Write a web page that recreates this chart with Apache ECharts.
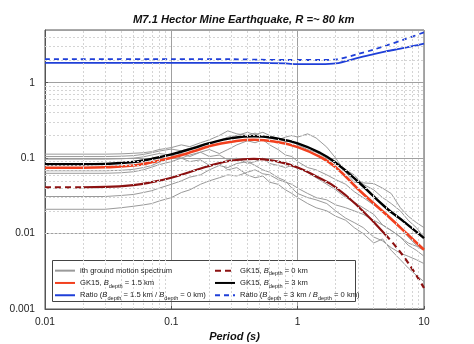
<!DOCTYPE html>
<html>
<head>
<meta charset="utf-8">
<script src="https://cdn.jsdelivr.net/npm/echarts@6/dist/echarts.min.js"></script>
<style>
  html, body { margin: 0; padding: 0; background: #fff; }
  #chart { width: 474px; height: 344px; }
</style>
</head>
<body>
<div id="chart"></div>
<script>
// Periods (s) at which the GK15 model curves are tabulated
const periods = [0.01, 0.02, 0.03, 0.05, 0.07, 0.1, 0.15, 0.2, 0.3, 0.45, 0.7, 1, 1.5, 2, 3, 5, 7, 10];
// GK15 spectral acceleration (g) for three basin depths
const gk15Depth0 = [0.041, 0.041, 0.0415, 0.044, 0.048, 0.055, 0.068, 0.079, 0.093, 0.098, 0.09, 0.075, 0.054, 0.041, 0.023, 0.0095, 0.0048, 0.0019];
const gk15Depth15 = [0.0747, 0.0747, 0.0756, 0.080, 0.088, 0.101, 0.123, 0.144, 0.165, 0.175, 0.163, 0.14, 0.104, 0.076, 0.039, 0.018, 0.0107, 0.0061];
const gk15Depth3 = [0.083, 0.083, 0.084, 0.089, 0.098, 0.112, 0.136, 0.158, 0.184, 0.195, 0.181, 0.157, 0.118, 0.087, 0.049, 0.022, 0.0142, 0.0087];

// Basin amplification ratios
const ratioPeriods = [0.01, 0.1, 0.3, 0.5, 0.8, 1, 1.5, 2, 3, 4, 5, 7, 10];
const ratio15 = [1.83, 1.83, 1.83, 1.83, 1.8, 1.76, 1.76, 1.8, 2.13, 2.4, 2.6, 2.9, 3.3];
const ratio3 = [2.06, 2.06, 2.05, 2.02, 2.0, 2.0, 2.0, 2.03, 2.4, 2.75, 3.1, 3.75, 4.66];

// Recorded ground motion spectra (g)
const gmPeriods = [0.01, 0.02, 0.03, 0.04, 0.05, 0.06, 0.07, 0.08, 0.1, 0.12, 0.14, 0.17, 0.2, 0.24, 0.28, 0.33, 0.4, 0.46, 0.53, 0.6, 0.7, 0.8, 0.9, 1, 1.2, 1.4, 1.7, 2, 2.4, 2.8, 3.3, 4, 4.7, 5.5, 6.5, 7.5, 8.7, 10];
const gm1 = [0.113,0.113,0.113,0.114,0.116,0.118,0.122,0.13,0.138,0.15,0.142,0.16,0.175,0.2,0.23,0.21,0.2,0.215,0.19,0.185,0.175,0.19,0.2,0.19,0.21,0.185,0.14,0.1,0.065,0.048,0.047,0.046,0.04,0.034,0.022,0.017,0.014,0.012];
const gm2 = [0.105,0.105,0.105,0.106,0.108,0.112,0.118,0.124,0.132,0.125,0.135,0.15,0.16,0.17,0.19,0.2,0.22,0.205,0.22,0.2,0.18,0.165,0.17,0.15,0.13,0.12,0.1,0.085,0.07,0.06,0.045,0.038,0.03,0.025,0.02,0.015,0.012,0.009];
const gm3 = [0.097,0.097,0.097,0.098,0.1,0.104,0.11,0.115,0.11,0.1,0.09,0.095,0.08,0.085,0.07,0.075,0.06,0.055,0.058,0.048,0.045,0.038,0.034,0.03,0.025,0.022,0.02,0.017,0.015,0.012,0.01,0.0075,0.0085,0.006,0.0045,0.0035,0.0028,0.0023];
const gm4 = [0.068,0.068,0.068,0.069,0.071,0.075,0.08,0.088,0.1,0.115,0.105,0.12,0.13,0.115,0.13,0.15,0.17,0.16,0.175,0.15,0.13,0.11,0.105,0.09,0.075,0.07,0.06,0.052,0.045,0.036,0.03,0.024,0.02,0.016,0.012,0.009,0.007,0.006];
const gm5 = [0.063,0.063,0.063,0.064,0.066,0.07,0.076,0.082,0.09,0.1,0.11,0.12,0.105,0.11,0.095,0.1,0.085,0.09,0.1,0.085,0.08,0.075,0.08,0.074,0.065,0.055,0.045,0.038,0.03,0.026,0.022,0.018,0.013,0.011,0.009,0.007,0.006,0.005];
const gm6 = [0.031,0.031,0.031,0.032,0.033,0.035,0.037,0.04,0.045,0.05,0.056,0.06,0.07,0.08,0.075,0.085,0.09,0.08,0.07,0.065,0.055,0.05,0.04,0.034,0.03,0.028,0.025,0.02,0.016,0.014,0.012,0.009,0.008,0.0065,0.0055,0.005,0.0045,0.004];
const gm7 = [0.021,0.021,0.021,0.022,0.023,0.024,0.025,0.027,0.03,0.035,0.038,0.045,0.05,0.055,0.06,0.058,0.065,0.07,0.062,0.06,0.052,0.048,0.045,0.04,0.034,0.03,0.028,0.024,0.022,0.02,0.018,0.015,0.013,0.011,0.009,0.0075,0.0068,0.006];
const groundMotions = [gm1, gm2, gm3, gm4, gm5, gm6, gm7];

// Period range over which the 0 km curve is drawn solid
const solidRange = [0.02, 5];

const NAME_GM = 'ith ground motion spectrum';
const NAME_D0 = 'GK15, Bdepth = 0 km';
const NAME_D15 = 'GK15, Bdepth = 1.5 km';
const NAME_D3 = 'GK15, Bdepth = 3 km';
const NAME_R15 = 'Ratio (Bdepth = 1.5 km / Bdepth = 0 km)';
const NAME_R3 = 'Ratio (Bdepth = 3 km / Bdepth = 0 km)';

const legendText = {};
legendText[NAME_GM] = 'ith ground motion spectrum';
legendText[NAME_D0] = 'GK15, {b|B}{s|depth} = 0 km';
legendText[NAME_D15] = 'GK15, {b|B}{s|depth} = 1.5 km';
legendText[NAME_D3] = 'GK15, {b|B}{s|depth} = 3 km';
legendText[NAME_R15] = 'Ratio ({b|B}{s|depth} = 1.5 km / {b|B}{s|depth} = 0 km)';
legendText[NAME_R3] = 'Ratio ({b|B}{s|depth} = 3 km / {b|B}{s|depth} = 0 km)';

function pairs(xs, ys) { return xs.map((x, i) => [x, ys[i]]); }
function pairsIn(xs, ys, lo, hi) {
  return pairs(xs, ys).filter(p => p[0] >= lo - 1e-9 && p[0] <= hi + 1e-9);
}

// Minor grid positions (2..9 within each decade)
const minorX = [], minorY = [];
[0.01, 0.1, 1].forEach(d => { for (let k = 2; k <= 9; k++) minorX.push(+(d * k).toPrecision(3)); });
[0.001, 0.01, 0.1].forEach(d => { for (let k = 2; k <= 9; k++) minorY.push(+(d * k).toPrecision(3)); });
[2, 3, 4].forEach(v => minorY.push(v));

const FONT = '"Liberation Sans", Arial, sans-serif';
const colGray = '#9a9a9a', colDark = '#8c1111', colRed = '#f2401e', colBlack = '#000000', colBlue = '#1f3fd8';

const series = [];
// minor grid lines
series.push({
  type: 'line', name: '_grid', data: [], silent: true, z: 1,
  markLine: {
    silent: true, symbol: ['none', 'none'], animation: false,
    label: { show: false },
    lineStyle: { color: '#d4d4d4', type: [2, 2], width: 1 },
    data: minorX.map(v => ({ xAxis: v })).concat(minorY.map(v => ({ yAxis: v })))
  }
});
groundMotions.forEach(g => series.push({
  type: 'line', name: NAME_GM, data: pairs(gmPeriods, g), symbol: 'none',
  lineStyle: { color: colGray, width: 1 }, itemStyle: { color: colGray }, z: 2
}));
const darkStyle = { color: colDark, width: 2.2 };
series.push({
  type: 'line', name: NAME_D0, data: pairsIn(periods, gk15Depth0, 0, solidRange[0]), symbol: 'none', smooth: true,
  lineStyle: Object.assign({ type: [6, 4] }, darkStyle), itemStyle: { color: colDark }, z: 3
});
series.push({
  type: 'line', name: '_d0solid', data: pairsIn(periods, gk15Depth0, solidRange[0], solidRange[1]), symbol: 'none', smooth: true,
  lineStyle: darkStyle, itemStyle: { color: colDark }, z: 3
});
series.push({
  type: 'line', name: NAME_D0, data: pairsIn(periods, gk15Depth0, solidRange[1], 100), symbol: 'none', smooth: true,
  lineStyle: Object.assign({ type: [6, 4] }, darkStyle), itemStyle: { color: colDark }, z: 3
});
series.push({
  type: 'line', name: NAME_D15, data: pairs(periods, gk15Depth15), symbol: 'none', smooth: true,
  lineStyle: { color: colRed, width: 2.6 }, itemStyle: { color: colRed }, z: 3
});
series.push({
  type: 'line', name: NAME_D3, data: pairs(periods, gk15Depth3), symbol: 'none', smooth: true,
  lineStyle: { color: colBlack, width: 2.4 }, itemStyle: { color: colBlack }, z: 3
});
series.push({
  type: 'line', name: NAME_R15, data: pairs(ratioPeriods, ratio15), symbol: 'none', smooth: 0.3,
  lineStyle: { color: colBlue, width: 1.8 }, itemStyle: { color: colBlue }, z: 3
});
series.push({
  type: 'line', name: NAME_R3, data: pairs(ratioPeriods, ratio3), symbol: 'none', smooth: 0.3,
  lineStyle: { color: colBlue, width: 1.8, type: [5, 4] }, itemStyle: { color: colBlue }, z: 3
});

const legendCommon = {
  orient: 'vertical', selectedMode: false, itemWidth: 20, itemHeight: 10, itemGap: 0,
  itemTextGap: 1, z: 6, padding: 0,
  itemStyle: { opacity: 0 },
  formatter: n => legendText[n],
  textStyle: {
    fontFamily: FONT, fontSize: 7.6, color: '#222', lineHeight: 12.3,
    rich: {
      b: { fontFamily: FONT, fontSize: 7.6, fontStyle: 'italic', color: '#222', lineHeight: 12.3 },
      s: { fontFamily: FONT, fontSize: 5.6, color: '#222', lineHeight: 10, verticalAlign: 'bottom' }
    }
  }
};

const axisLabelFmt = v => String(Number((+v).toPrecision(6)));

const option = {
  animation: false,
  backgroundColor: '#fff',
  title: {
    text: 'M7.1 Hector Mine Earthquake, R =~ 80 km',
    left: 133, top: 14, padding: 0,
    textStyle: { fontFamily: FONT, fontSize: 11.2, fontWeight: 'bold', fontStyle: 'italic', color: '#111' }
  },
  grid: {
    left: 45, right: 50, top: 30, bottom: 35, containLabel: false, outerBoundsMode: 'none',
    show: true, borderColor: '#555', borderWidth: 1, backgroundColor: 'transparent'
  },
  xAxis: {
    type: 'log', logBase: 10, min: 0.01, max: 10,
    name: 'Period (s)', nameLocation: 'middle', nameGap: 14,
    nameTextStyle: { fontFamily: FONT, fontSize: 11, fontWeight: 'bold', fontStyle: 'italic', color: '#111' },
    axisLine: { show: true, onZero: false, lineStyle: { color: '#555' } },
    axisTick: { show: true, inside: true, length: 3, lineStyle: { color: '#555' } },
    axisLabel: { fontFamily: FONT, fontSize: 10.2, color: '#222', margin: 8, formatter: axisLabelFmt },
    splitLine: { show: true, lineStyle: { color: '#a0a0a0', width: 1 } }
  },
  yAxis: {
    type: 'log', logBase: 10, min: 0.001, max: 5,
    name: 'SA (g)', nameLocation: 'middle', nameGap: 27, nameRotate: 90,
    nameTextStyle: { fontFamily: FONT, fontSize: 11, fontWeight: 'bold', fontStyle: 'italic', color: '#111', padding: [0, 0, 0, 46] },
    axisLine: { show: true, onZero: false, lineStyle: { color: '#555' } },
    axisTick: { show: true, inside: true, length: 3, lineStyle: { color: '#555' } },
    axisLabel: { fontFamily: FONT, fontSize: 10.2, color: '#222', margin: 10, showMaxLabel: false, formatter: axisLabelFmt },
    splitLine: { show: true, lineStyle: { color: '#a0a0a0', width: 1 } }
  },
  graphic: [{
    type: 'rect', z: 5, silent: true,
    shape: { x: 52.5, y: 260.5, width: 303, height: 41 },
    style: { fill: '#fff', stroke: '#444', lineWidth: 1 }
  }],
  legend: [
    Object.assign({ left: 54, top: 264.5, data: [NAME_GM, NAME_D15, NAME_R15] }, legendCommon),
    Object.assign({ left: 214, top: 264.5, data: [NAME_D0, NAME_D3, NAME_R3] }, legendCommon)
  ],
  series: series
};

const chart = echarts.init(document.getElementById('chart'), null, { renderer: 'canvas' });
chart.setOption(option);
</script>
</body>
</html>
